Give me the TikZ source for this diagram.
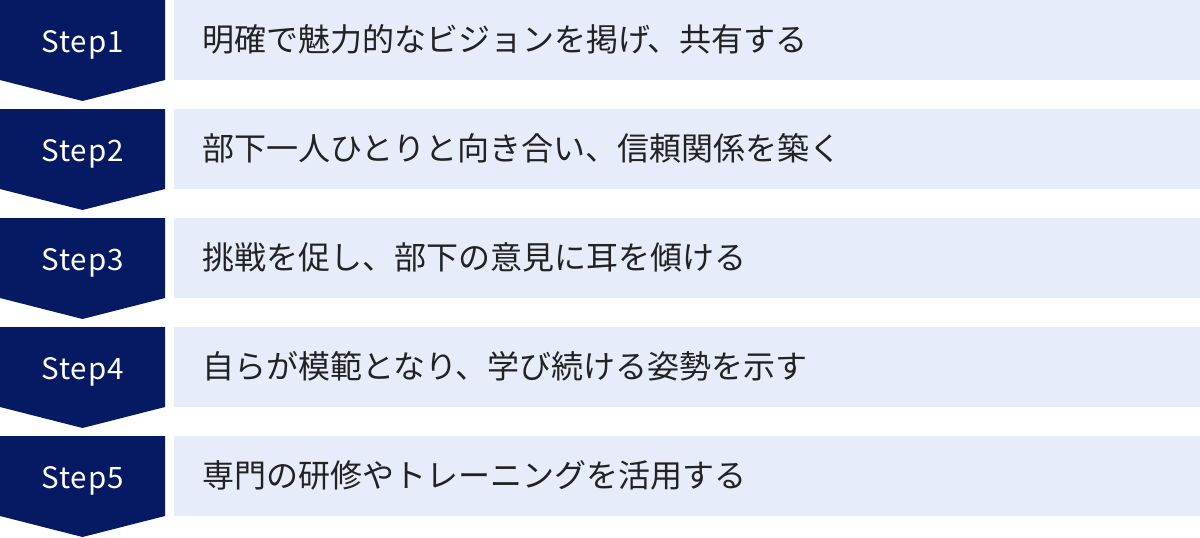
\documentclass[tikz,border=0pt]{standalone}
\usepackage{fontspec}
\setmainfont{Noto Sans CJK JP}
\usetikzlibrary{positioning}
\definecolor{stepnavy}{HTML}{061A64}
\definecolor{tasklight}{HTML}{E6ECF9}
\definecolor{tasktext}{HTML}{222222}

\begin{document}
\begin{tikzpicture}[x=1pt, y=-1pt,
  steplabel/.style={anchor=base, text=white, inner sep=0pt,
    font=\fontsize{29.5}{34}\selectfont\addfontfeatures{LetterSpace=3.5}},
  tasklabel/.style={anchor=west, text=tasktext, inner sep=0pt, font=\fontsize{32}{38}\selectfont}]
  \useasboundingbox (0,0) rectangle (1200,538);
  \foreach \n/\task in {1/明確で魅力的なビジョンを掲げ、共有する,
                        2/部下一人ひとりと向き合い、信頼関係を築く,
                        3/挑戦を促し、部下の意見に耳を傾ける,
                        4/自らが模範となり、学び続ける姿勢を示す,
                        5/専門の研修やトレーニングを活用する}{
    \pgfmathsetmacro{\rowy}{(\n-1)*109}
    % chevron box and task bar
    \fill[stepnavy] (0,\rowy) -- ++(165,0) -- ++(0,80) -- ++(-82.5,21) -- ++(-82.5,-21) -- cycle;
    \fill[tasklight] (174,\rowy) rectangle ++(1026,80);
    \node[steplabel] (step\n) at (82.5,\rowy+52) {Step\n};
    \node[tasklabel] (task\n) at (202,\rowy+39) {\task};
  }
\end{tikzpicture}
\end{document}
